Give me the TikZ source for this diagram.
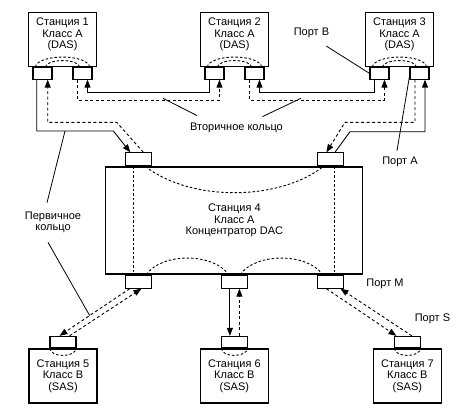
\documentclass[tikz,border=0pt]{standalone}
\usepackage{fontspec}
\setmainfont{Liberation Sans}
\usetikzlibrary{arrows.meta, positioning, calc}
\tikzset{
  station/.style={draw, line width=1.1pt, minimum width=68pt, minimum height=54pt,
    inner sep=0pt, align=center, font=\fontsize{11}{11.5}\selectfont},
  port/.style={draw, line width=1.1pt, minimum width=19pt, minimum height=11.5pt,
    inner sep=0pt, fill=white},
  sasport/.style={port, minimum width=26pt},
  hubport/.style={port, minimum width=26pt, minimum height=13pt},
  prim/.style={line width=0.9pt},
  sec/.style={line width=0.9pt, dash pattern=on 3pt off 2.5pt},
  tip/.style={-{Triangle[length=8pt,width=6pt]}},
  wrap/.style={line width=0.9pt, dash pattern=on 2.5pt off 2pt},
  lbl/.style={font=\fontsize{11}{11.5}\selectfont, inner sep=1pt, align=center},
  lead/.style={line width=0.8pt},
}

\begin{document}
\begin{tikzpicture}[x=1pt, y=-1pt]
  \useasboundingbox (0,0) rectangle (474,410);

  % DAS stations
  \node[station] (st1) at (62.5,39.5) {};
  \node[station] (st2) at (234.5,39.5) {};
  \node[station] (st3) at (399.5,39.5) {};
  \node[lbl] (st1txt) at ($(st1.center)+(0,-5)$) {Станция 1\\Класс А\\(DAS)};
  \node[lbl] (st2txt) at ($(st2.center)+(0,-5)$) {Станция 2\\Класс А\\(DAS)};
  \node[lbl] (st3txt) at ($(st3.center)+(0,-5)$) {Станция 3\\Класс А\\(DAS)};
  \foreach \s in {st1,st2,st3} {
    \draw[wrap] ($(\s.south)+(-27,0)$) arc[start angle=180, end angle=360, x radius=27, y radius=10];
    \draw[wrap] ($(\s.south)+(-17,0)$) arc[start angle=180, end angle=360, x radius=17, y radius=6.5];
  }
  \node[port, anchor=north] (s1a) at ($(st1.south)+(-20,0)$) {};
  \node[port, anchor=north] (s1b) at ($(st1.south)+(20,0)$) {};
  \node[port, anchor=north] (s2a) at ($(st2.south)+(-20,0)$) {};
  \node[port, anchor=north] (s2b) at ($(st2.south)+(20,0)$) {};
  \node[port, anchor=north] (s3a) at ($(st3.south)+(-20,0)$) {};
  \node[port, anchor=north] (s3b) at ($(st3.south)+(20,0)$) {};

  % concentrator
  \node[station, minimum width=257pt, minimum height=107pt] (st4) at (234.4,220.5)
    {Станция 4\\Класс А\\Концентратор DAC};
  \node[hubport, anchor=south] (h1) at ($(st4.north)+(-96,0)$) {};
  \node[hubport, anchor=south] (h2) at ($(st4.north)+(96,0)$) {};
  \node[hubport, anchor=north] (h3) at ($(st4.south)+(-96,0)$) {};
  \node[hubport, anchor=north] (h4) at (st4.south) {};
  \node[hubport, anchor=north] (h5) at ($(st4.south)+(96,0)$) {};
  \draw[wrap] ($(st4.north)+(-101,0)$) -- ($(st4.south)+(-101,0)$);
  \draw[wrap] ($(st4.north)+(100,0)$) -- ($(st4.south)+(100,0)$);
  \draw[wrap] ($(h1.south)+(7,0)$) .. controls +(45,35) and +(-45,35) .. ($(h2.south)+(-7,0)$);
  \draw[wrap] ($(h3.north)+(8,0)$) .. controls +(15,-22) and +(-15,-22) .. ($(h4.north)+(-6,0)$);
  \draw[wrap] ($(h4.north)+(6,0)$) .. controls +(15,-22) and +(-15,-22) .. ($(h5.north)+(-8,0)$);

  % SAS stations
  \node[station] (st5) at (63,376) {Станция 5\\Класс В\\(SAS)};
  \node[station] (st6) at (234.4,376) {Станция 6\\Класс В\\(SAS)};
  \node[station] (st7) at (407.4,376) {Станция 7\\Класс В\\(SAS)};
  \foreach \s in {st5,st6,st7}
    \draw[wrap] ($(\s.north)+(-13,0)$) arc[start angle=180, end angle=0, x radius=13, y radius=7];
  \node[sasport, anchor=south] (p5) at (st5.north) {};
  \node[sasport, anchor=south] (p6) at (st6.north) {};
  \node[sasport, anchor=south] (p7) at (st7.north) {};

  % trunk rings
  \draw[prim, tip] ($(s1a.south)+(-5.8,0)$) |- (113.3,131) -- ($(h1.north)+(-8,0)$);
  \draw[sec, tip] ($(h1.north)+(5,0)$) -- (116.7,122.3) -| ($(s1a.south)+(5.2,0)$);
  \draw[sec, tip] ($(s1b.south)+(-5,0)$) -- ++(0,20.3) -| ($(s2a.south)+(5,0)$);
  \draw[prim, tip] ($(s2a.south)+(-5,0)$) -- ++(0,13) -| ($(s1b.south)+(5,0)$);
  \draw[sec, tip] ($(s2b.south)+(-5,0)$) -- ++(0,20.3) -| ($(s3a.south)+(5,0)$);
  \draw[prim, tip] ($(s3a.south)+(-5,0)$) -- ++(0,13) -| ($(s2b.south)+(5,0)$);
  \draw[sec, tip] ($(s3b.south)+(-4.5,0)$) |- (345,122.3) -- ($(h2.north)+(-4,0)$);
  \draw[prim, tip] ($(h2.north)+(4.5,0)$) -- (350,131.7) -| ($(s3b.south)+(5.5,0)$);

  % M-S links
  \draw[sec, tip] ($(h3.south)+(-8.7,0)$) -- coordinate[pos=0.57] (m5) ($(p5.north)+(-3.5,0)$);
  \draw[sec, tip] ($(p5.north)+(6.5,0)$) -- ($(h3.south)+(3,0)$);
  \draw[prim, tip] ($(h4.south)+(-4.5,0)$) -- ($(p6.north)+(-4.5,0)$);
  \draw[sec, tip] ($(p6.north)+(5,0)$) -- ($(h4.south)+(5,0)$);
  \draw[sec, tip] ($(h5.south)+(-4,0)$) -- ($(p7.north)+(-11,0)$);
  \draw[sec, tip] ($(p7.north)+(4.5,0)$) -- ($(h5.south)+(10,0)$);

  % labels
  \coordinate (r1top) at (65,131);
  \coordinate (r2left) at (163,98.3);
  \coordinate (r2right) at (301,98.3);
  \node[lbl] (portB) at (311.5,33) {Порт B};
  \draw[lead] ($(portB.south east)+(-4,7)$) -- (s3a.west);
  \node[lbl] (ring2) at (236.5,127.7) {Вторичное кольцо};
  \draw[lead] ($(ring2.north west)+(8,-6)$) -- (r2left);
  \draw[lead] ($(ring2.north)+(26,-5)$) -- (r2right);
  \node[lbl] (portA) at (400,161.7) {Порт A};
  \draw[lead] ($(portA.north)+(-3,-5)$) -- ($(s3b.west)!0.5!(s3b.south west)$);
  \node[lbl] (ring1) at (53,222.5) {Первичное\\кольцо};
  \draw[lead] ($(ring1.north)+(-6,-8)$) -- (r1top);
  \draw[lead] ($(ring1.south)+(-5,8)$) -- (m5);
  \node[lbl] (portM) at (385,284) {Порт M};
  \node[lbl] (portS) at (432.5,318.3) {Порт S};
\end{tikzpicture}
\end{document}
